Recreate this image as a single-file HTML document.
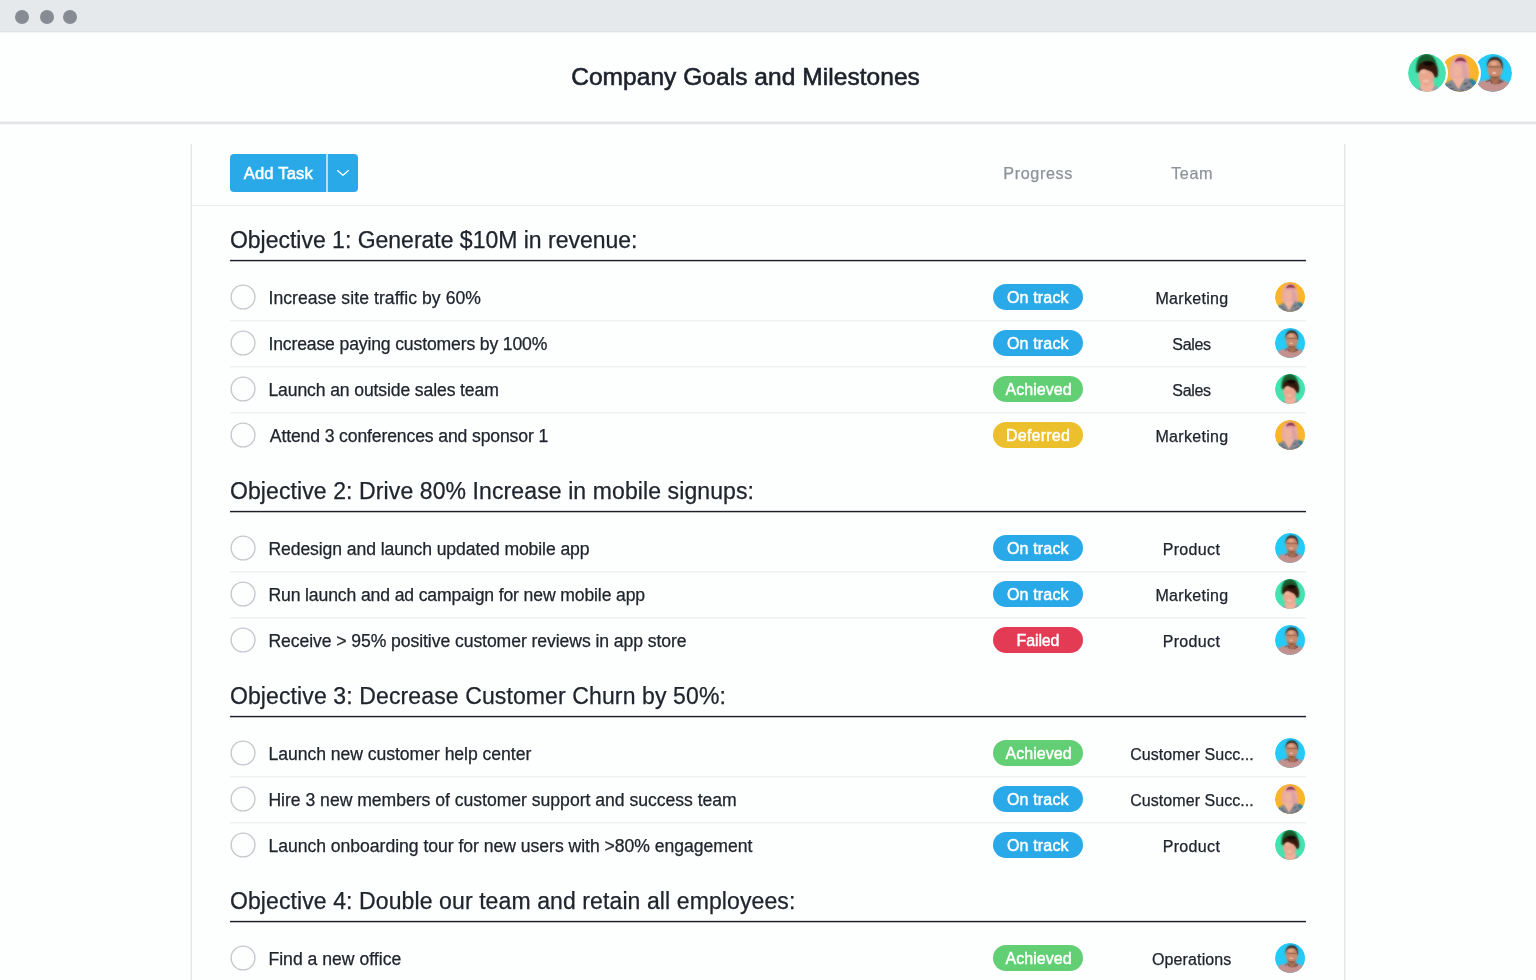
<!DOCTYPE html>
<html lang="en">
<head>
<meta charset="utf-8">
<title>Company Goals and Milestones</title>
<style>
*{box-sizing:border-box;margin:0;padding:0}
html,body{width:1536px;height:980px;overflow:hidden}
body{background:#fdfefe;font-family:"Liberation Sans",sans-serif;color:#1f232b;position:relative}
#root{position:absolute;left:0;top:0;width:1536px;height:980px;will-change:transform}
.t{position:absolute;white-space:nowrap}
.titlebar{position:absolute;left:0;top:0;width:1536px;height:33px;background:linear-gradient(#e6e9ec 0,#e6e9ec 31px,#dee1e5 31px,#dee1e5 32px,#f1f3f4 32px,#f1f3f4 33px)}
.dot{position:absolute;top:10.2px;width:14px;height:14px;border-radius:50%;background:#878b94}
.header{position:absolute;left:0;top:33px;width:1536px;height:88px;background:#fdfefe}
.hline{position:absolute;left:0;top:121px;width:1536px;height:4px;background:linear-gradient(#eff0f2 0,#eff0f2 25%,#e2e4e7 25%,#e2e4e7 50%,#e4e6e9 50%,#e4e6e9 75%,#f4f5f6 75%,#f4f5f6 100%)}
.title{color:#1c212b;-webkit-text-stroke:0.6px #1c212b}
.hav{--avb:2.4px;position:absolute;top:51.8px;width:42px;height:42px;border-radius:50%;border:2px solid #fdfefe;background:#fdfefe}
.card{position:absolute;left:191px;top:144px;width:1154px;height:836px;border-left:1px solid #e4e6e8;border-right:1px solid #e4e6e8;background:#fdfefe;box-shadow:-1px 0 0 #f3f4f6,1px 0 0 #f1f2f4}
.tbline{position:absolute;left:192px;top:205px;width:1152px;height:1px;background:#ecedf0}
.addbtn{position:absolute;left:230.4px;top:154px;width:128px;height:38px;border-radius:4px;background:#2aa9e9}
.addtxt{color:#fff;-webkit-text-stroke:0.5px #fff}
.adddiv{position:absolute;left:96px;top:0;width:1.5px;height:38px;background:#b4e0f7}
.chev{position:absolute;left:107px;top:16px}
.colh{color:#8e929a;-webkit-text-stroke:0.25px #8e929a}
.sec{color:#20242d;-webkit-text-stroke:0.25px #20242d}
.rule{position:absolute;left:230px;width:1076px;height:3px;background:linear-gradient(rgba(30,32,38,.16) 0,rgba(30,32,38,.16) 33.33%,#1e2026 33.33%,#1e2026 66.67%,rgba(30,32,38,.3) 66.67%,rgba(30,32,38,.3) 100%)}
.sep{position:absolute;left:230px;width:1076px;height:2px;background:linear-gradient(#f0f1f3 0,#f0f1f3 50%,#f6f7f8 50%,#f6f7f8 100%)}
.chk{position:absolute;left:229px}
.task{color:#20242d;-webkit-text-stroke:0.25px #20242d}
.pill{position:absolute;left:993px;width:90px;height:26px;border-radius:13px}
.pill.ontrack{background:#2aa9e9}
.pill.achieved{background:#62cf74}
.pill.deferred{background:#ecbf2d}
.pill.failed{background:#e33b54}
.ptxt{color:#fff;-webkit-text-stroke:0.45px #fff}
.team{color:#20242d;-webkit-text-stroke:0.25px #20242d}
.av{--avb:2.65px;position:absolute;left:1274.9px;width:30.6px;height:30.6px;border-radius:50%}

</style>
</head>
<body>
<svg width="0" height="0" style="position:absolute">
<defs>
<clipPath id="cc"><circle cx="50" cy="50" r="50"/></clipPath>
<filter id="bl" x="-20%" y="-20%" width="140%" height="140%"><feGaussianBlur stdDeviation="2.4"/></filter>
<g id="sa">
    <path d="M24 62 C19 30 28 7 50 6 C68 7 76 30 74 66 C60 72 36 70 24 62Z" fill="#e6aaa8"/>
    <path d="M55 22 C64 30 71 44 73 65 L58 67Z" fill="#dba2a2"/>
    <path d="M36 22 C39 5 63 4 67 23 C58 17 46 17 36 22Z" fill="#8a2e4a"/>
    <path d="M35 27 C44 20 58 20 67 27 C58 24 46 24 35 27Z" fill="#e78fb2"/>
    <ellipse cx="43" cy="44" rx="11.5" ry="17" fill="#f0b29c"/>
    <path d="M10 100 C8 82 18 72 30 68 L46 92 L62 64 C80 64 96 74 96 100Z" fill="#868b94"/>
    <path d="M76 66 C86 66 92 72 94 80 L82 82Z" fill="#1b86b0"/>
    <path d="M8 86 C10 80 12 78 16 76 L18 86Z" fill="#1b86b0"/>
    <path d="M30 63 L61 63 L62 66 L46 93 L30 68Z" fill="#f0b39e"/>
    <path d="M20 80 L28 84 M24 92 L34 90 M60 80 L70 76 M66 90 L78 86 M54 94 L60 98 M36 96 L42 98 M74 70 L80 74" stroke="#4d525c" stroke-width="3" fill="none"/>
</g>
<g id="av-a" clip-path="url(#cc)">
  <rect width="100" height="100" fill="#fbb52b"/>
  <use href="#sa" style="filter:blur(var(--avb))"/>
  <use href="#sa" opacity="0.45"/>
</g>
<g id="sb">
    <path d="M2 100 C4 82 10 74 22 71 L44 66 L66 66 L86 73 C94 77 98 88 98 100Z" fill="#c4928f"/>
    <path d="M45 58 L68 58 L68 74 L56 82 L44 74Z" fill="#a9704f"/>
    <path d="M35 36 C34 16 44 10 55 10 C68 10 76 18 74 38 C74 50 70 58 64 62 L46 62 C40 58 36 50 35 36Z" fill="#c98b6e"/>
    <path d="M40 54 C46 68 62 68 69 54 C64 62 46 62 40 54Z" fill="#7f4f38"/>
    <ellipse cx="52" cy="25" rx="9" ry="6" fill="#e6a68a"/>
    <path d="M35 36 C33 16 44 8 55 8 C68 8 78 18 75 42 C73 32 71 22 64 17 C56 14 46 15 40 21 C37 25 36 30 35 36Z" fill="#352620"/>
    <path d="M38 34 L72 34" stroke="#6b4636" stroke-width="2.2" fill="none"/>
    <ellipse cx="53" cy="50" rx="5.5" ry="2.4" fill="#ecd2c8"/>
    <path d="M32 73 L43 68 L48 78 M64 68 L75 72 L62 78" stroke="#6e4048" stroke-width="3.2" fill="none"/>
</g>
<g id="av-b" clip-path="url(#cc)">
  <rect width="100" height="100" fill="#25cbf7"/>
  <use href="#sb" style="filter:blur(var(--avb))"/>
  <use href="#sb" opacity="0.45"/>
</g>
<g id="sc">
    <path d="M22 48 C20 16 32 0 48 0 C64 0 78 16 75 48Z" fill="#175c2c"/>
    <path d="M33 74 L33 86 C30 92 27 96 23 102 L84 102 C79 94 73 88 68 84 L66 70Z" fill="#efb29c"/>
    <path d="M20 102 L31 86 L37 96 L35 102Z" fill="#9c9eaa"/>
    <path d="M86 102 L72 82 L63 94 L70 102Z" fill="#9c9eaa"/>
    <ellipse cx="48" cy="58" rx="20.5" ry="25" fill="#eaa68e"/>
    <ellipse cx="40" cy="46" rx="8" ry="5" fill="#f2b8a2"/>
    <ellipse cx="47" cy="71" rx="9" ry="4" fill="#f3c0ac"/>
    <path d="M27 50 C22 31 34 18 51 18 C69 18 81 30 78 55 C77 63 71 63 69 57 C66 49 60 45 52 43 C44 38 36 37 29 47Z" fill="#35180c"/>
    <ellipse cx="54" cy="25" rx="13" ry="5.5" fill="#0e0805"/>
</g>
<g id="av-c" clip-path="url(#cc)">
  <rect width="100" height="100" fill="#45e3b0"/>
  <use href="#sc" style="filter:blur(var(--avb))"/>
  <use href="#sc" opacity="0.45"/>
</g>
</defs>
</svg>

<div id="root">
<div class="titlebar"><span class="dot" style="left:15.3px"></span><span class="dot" style="left:39.7px"></span><span class="dot" style="left:62.8px"></span></div>
<div class="header"></div>
<div class="hline"></div>
<div class="t title" style="left:571.15px;top:58px;font-size:24.5px;line-height:37px;height:37px;letter-spacing:0.054px;">Company Goals and Milestones</div>
<svg class="hav" style="left:1471.5px;z-index:1" viewBox="0 0 100 100"><use href="#av-b"/></svg>
<svg class="hav" style="left:1439.2px;z-index:2" viewBox="0 0 100 100"><use href="#av-a"/></svg>
<svg class="hav" style="left:1406.1px;z-index:3" viewBox="0 0 100 100"><use href="#av-c"/></svg>
<div class="card"></div>
<div class="tbline"></div>
<div class="addbtn"><span class="adddiv"></span><svg class="chev" viewBox="0 0 12 6" width="12" height="6"><path d="M0.6 0.6 L6 5.3 L11.4 0.6" fill="none" stroke="#fff" stroke-width="1.3" stroke-linecap="round" stroke-linejoin="round"/></svg></div>
<div class="t addtxt" style="left:243.65px;top:159px;font-size:16.6px;line-height:29px;height:29px;letter-spacing:0.187px;">Add Task</div>
<div class="t colh" style="left:1003.25px;top:159px;font-size:16.2px;line-height:28px;height:28px;letter-spacing:0.614px;">Progress</div>
<div class="t colh" style="left:1171.17px;top:159px;font-size:16.2px;line-height:28px;height:28px;letter-spacing:0.609px;">Team</div>
<div class="t sec" style="left:229.94px;top:222px;font-size:23px;line-height:36px;height:36px;letter-spacing:-0.009px;">Objective 1: Generate $10M in revenue:</div>
<div class="rule" style="top:259px"></div>
<svg class="chk" style="top:283px" width="28" height="28" viewBox="0 0 28 28"><circle cx="14.05" cy="14" r="11.9" fill="none" stroke="#c6c8ce" stroke-width="1.4"/></svg><div class="t task" style="left:268.44px;top:283px;font-size:17.6px;line-height:30px;height:30px;letter-spacing:0.062px;">Increase site traffic by 60%</div><div class="pill ontrack" style="top:284px"></div><div class="t ptxt" style="left:1006.89px;top:284px;font-size:16px;line-height:27px;height:27px;letter-spacing:0.184px;">On track</div><div class="t team" style="left:1155.47px;top:285px;font-size:16px;line-height:27px;height:27px;letter-spacing:0.306px;">Marketing</div><svg class="av" style="top:281.7px" viewBox="0 0 100 100"><use href="#av-a"/></svg>
<div class="sep" style="top:320px"></div>
<svg class="chk" style="top:329px" width="28" height="28" viewBox="0 0 28 28"><circle cx="14.05" cy="14" r="11.9" fill="none" stroke="#c6c8ce" stroke-width="1.4"/></svg><div class="t task" style="left:268.44px;top:329px;font-size:17.6px;line-height:30px;height:30px;letter-spacing:-0.146px;">Increase paying customers by 100%</div><div class="pill ontrack" style="top:330px"></div><div class="t ptxt" style="left:1006.89px;top:330px;font-size:16px;line-height:27px;height:27px;letter-spacing:0.184px;">On track</div><div class="t team" style="left:1172.33px;top:331px;font-size:16px;line-height:27px;height:27px;letter-spacing:-0.343px;">Sales</div><svg class="av" style="top:327.7px" viewBox="0 0 100 100"><use href="#av-b"/></svg>
<div class="sep" style="top:366px"></div>
<svg class="chk" style="top:375px" width="28" height="28" viewBox="0 0 28 28"><circle cx="14.05" cy="14" r="11.9" fill="none" stroke="#c6c8ce" stroke-width="1.4"/></svg><div class="t task" style="left:268.44px;top:375px;font-size:17.6px;line-height:30px;height:30px;letter-spacing:-0.126px;">Launch an outside sales team</div><div class="pill achieved" style="top:376px"></div><div class="t ptxt" style="left:1005.62px;top:376px;font-size:16px;line-height:27px;height:27px;letter-spacing:0.018px;">Achieved</div><div class="t team" style="left:1172.33px;top:377px;font-size:16px;line-height:27px;height:27px;letter-spacing:-0.343px;">Sales</div><svg class="av" style="top:373.7px" viewBox="0 0 100 100"><use href="#av-c"/></svg>
<div class="sep" style="top:412px"></div>
<svg class="chk" style="top:421px" width="28" height="28" viewBox="0 0 28 28"><circle cx="14.05" cy="14" r="11.9" fill="none" stroke="#c6c8ce" stroke-width="1.4"/></svg><div class="t task" style="left:269.82px;top:421px;font-size:17.6px;line-height:30px;height:30px;letter-spacing:-0.130px;">Attend 3 conferences and sponsor 1</div><div class="pill deferred" style="top:422px"></div><div class="t ptxt" style="left:1006.01px;top:422px;font-size:16px;line-height:27px;height:27px;letter-spacing:0.235px;">Deferred</div><div class="t team" style="left:1155.47px;top:423px;font-size:16px;line-height:27px;height:27px;letter-spacing:0.306px;">Marketing</div><svg class="av" style="top:419.7px" viewBox="0 0 100 100"><use href="#av-a"/></svg>
<div class="t sec" style="left:229.94px;top:473px;font-size:23px;line-height:36px;height:36px;letter-spacing:0.102px;">Objective 2: Drive 80% Increase in mobile signups:</div>
<div class="rule" style="top:510px"></div>
<svg class="chk" style="top:534px" width="28" height="28" viewBox="0 0 28 28"><circle cx="14.05" cy="14" r="11.9" fill="none" stroke="#c6c8ce" stroke-width="1.4"/></svg><div class="t task" style="left:268.44px;top:534px;font-size:17.6px;line-height:30px;height:30px;letter-spacing:-0.098px;">Redesign and launch updated mobile app</div><div class="pill ontrack" style="top:535px"></div><div class="t ptxt" style="left:1006.89px;top:535px;font-size:16px;line-height:27px;height:27px;letter-spacing:0.184px;">On track</div><div class="t team" style="left:1162.67px;top:536px;font-size:16px;line-height:27px;height:27px;letter-spacing:0.351px;">Product</div><svg class="av" style="top:532.7px" viewBox="0 0 100 100"><use href="#av-b"/></svg>
<div class="sep" style="top:571px"></div>
<svg class="chk" style="top:580px" width="28" height="28" viewBox="0 0 28 28"><circle cx="14.05" cy="14" r="11.9" fill="none" stroke="#c6c8ce" stroke-width="1.4"/></svg><div class="t task" style="left:268.44px;top:580px;font-size:17.6px;line-height:30px;height:30px;letter-spacing:-0.130px;">Run launch and ad campaign for new mobile app</div><div class="pill ontrack" style="top:581px"></div><div class="t ptxt" style="left:1006.89px;top:581px;font-size:16px;line-height:27px;height:27px;letter-spacing:0.184px;">On track</div><div class="t team" style="left:1155.47px;top:582px;font-size:16px;line-height:27px;height:27px;letter-spacing:0.306px;">Marketing</div><svg class="av" style="top:578.7px" viewBox="0 0 100 100"><use href="#av-c"/></svg>
<div class="sep" style="top:617px"></div>
<svg class="chk" style="top:626px" width="28" height="28" viewBox="0 0 28 28"><circle cx="14.05" cy="14" r="11.9" fill="none" stroke="#c6c8ce" stroke-width="1.4"/></svg><div class="t task" style="left:268.44px;top:626px;font-size:17.6px;line-height:30px;height:30px;letter-spacing:-0.076px;">Receive &gt; 95% positive customer reviews in app store</div><div class="pill failed" style="top:627px"></div><div class="t ptxt" style="left:1016.62px;top:627px;font-size:16px;line-height:27px;height:27px;letter-spacing:-0.136px;">Failed</div><div class="t team" style="left:1162.67px;top:628px;font-size:16px;line-height:27px;height:27px;letter-spacing:0.351px;">Product</div><svg class="av" style="top:624.7px" viewBox="0 0 100 100"><use href="#av-b"/></svg>
<div class="t sec" style="left:229.94px;top:678px;font-size:23px;line-height:36px;height:36px;letter-spacing:0.117px;">Objective 3: Decrease Customer Churn by 50%:</div>
<div class="rule" style="top:715px"></div>
<svg class="chk" style="top:739px" width="28" height="28" viewBox="0 0 28 28"><circle cx="14.05" cy="14" r="11.9" fill="none" stroke="#c6c8ce" stroke-width="1.4"/></svg><div class="t task" style="left:268.44px;top:739px;font-size:17.6px;line-height:30px;height:30px;letter-spacing:-0.041px;">Launch new customer help center</div><div class="pill achieved" style="top:740px"></div><div class="t ptxt" style="left:1005.62px;top:740px;font-size:16px;line-height:27px;height:27px;letter-spacing:0.018px;">Achieved</div><div class="t team" style="left:1130.28px;top:741px;font-size:16px;line-height:27px;height:27px;letter-spacing:0.049px;">Customer Succ...</div><svg class="av" style="top:737.7px" viewBox="0 0 100 100"><use href="#av-b"/></svg>
<div class="sep" style="top:776px"></div>
<svg class="chk" style="top:785px" width="28" height="28" viewBox="0 0 28 28"><circle cx="14.05" cy="14" r="11.9" fill="none" stroke="#c6c8ce" stroke-width="1.4"/></svg><div class="t task" style="left:268.44px;top:785px;font-size:17.6px;line-height:30px;height:30px;letter-spacing:-0.020px;">Hire 3 new members of customer support and success team</div><div class="pill ontrack" style="top:786px"></div><div class="t ptxt" style="left:1006.89px;top:786px;font-size:16px;line-height:27px;height:27px;letter-spacing:0.184px;">On track</div><div class="t team" style="left:1130.28px;top:787px;font-size:16px;line-height:27px;height:27px;letter-spacing:0.049px;">Customer Succ...</div><svg class="av" style="top:783.7px" viewBox="0 0 100 100"><use href="#av-a"/></svg>
<div class="sep" style="top:822px"></div>
<svg class="chk" style="top:831px" width="28" height="28" viewBox="0 0 28 28"><circle cx="14.05" cy="14" r="11.9" fill="none" stroke="#c6c8ce" stroke-width="1.4"/></svg><div class="t task" style="left:268.44px;top:831px;font-size:17.6px;line-height:30px;height:30px;letter-spacing:-0.031px;">Launch onboarding tour for new users with &gt;80% engagement</div><div class="pill ontrack" style="top:832px"></div><div class="t ptxt" style="left:1006.89px;top:832px;font-size:16px;line-height:27px;height:27px;letter-spacing:0.184px;">On track</div><div class="t team" style="left:1162.67px;top:833px;font-size:16px;line-height:27px;height:27px;letter-spacing:0.351px;">Product</div><svg class="av" style="top:829.7px" viewBox="0 0 100 100"><use href="#av-c"/></svg>
<div class="t sec" style="left:229.94px;top:883px;font-size:23px;line-height:36px;height:36px;letter-spacing:0.102px;">Objective 4: Double our team and retain all employees:</div>
<div class="rule" style="top:920px"></div>
<svg class="chk" style="top:944px" width="28" height="28" viewBox="0 0 28 28"><circle cx="14.05" cy="14" r="11.9" fill="none" stroke="#c6c8ce" stroke-width="1.4"/></svg><div class="t task" style="left:268.44px;top:944px;font-size:17.6px;line-height:30px;height:30px;letter-spacing:0.007px;">Find a new office</div><div class="pill achieved" style="top:945px"></div><div class="t ptxt" style="left:1005.62px;top:945px;font-size:16px;line-height:27px;height:27px;letter-spacing:0.018px;">Achieved</div><div class="t team" style="left:1151.97px;top:946px;font-size:16px;line-height:27px;height:27px;letter-spacing:0.126px;">Operations</div><svg class="av" style="top:942.7px" viewBox="0 0 100 100"><use href="#av-b"/></svg>
</div>
</body>
</html>
